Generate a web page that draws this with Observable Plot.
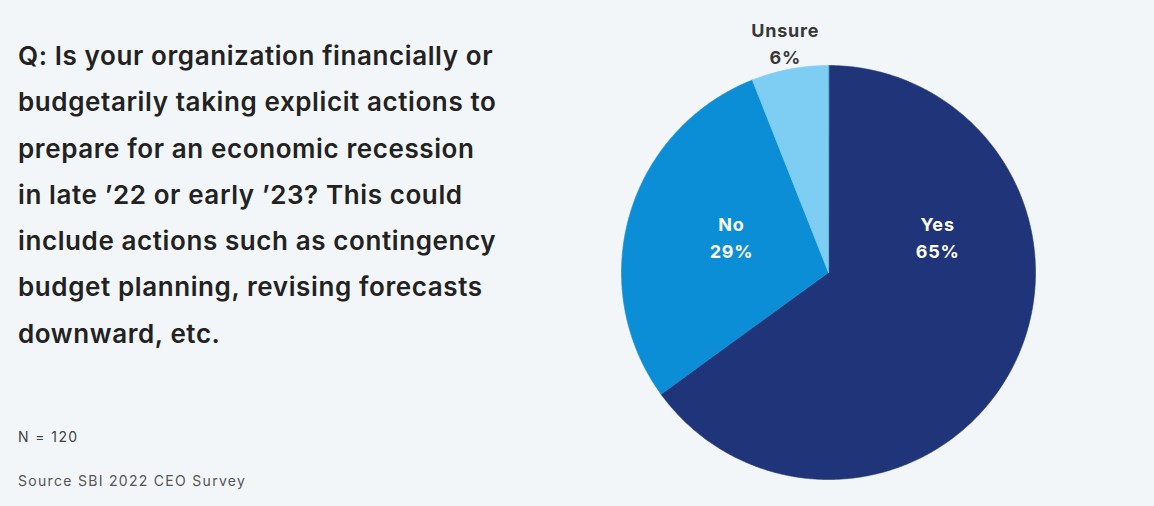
<!DOCTYPE html>
<html>
<head>
<meta charset="utf-8">
<script src="https://cdn.jsdelivr.net/npm/d3@7"></script>
<script src="https://cdn.jsdelivr.net/npm/@observablehq/plot@0.6"></script>
<style>
  html, body { margin: 0; padding: 0; background: #f2f6f9; }
  #wrap { position: relative; width: 1154px; height: 506px; background: #f2f6f9; overflow: hidden; font-family: Inter, "Open Sans", sans-serif; }
  #question { position: absolute; left: 18px; top: 33px; width: 540px; font-size: 26px; font-weight: 600; line-height: 46.3px; color: #222; letter-spacing: 0.6px; }
  #n { position: absolute; left: 18px; top: 428px; font-size: 14px; color: #444; letter-spacing: 1.4px; }
  #source { position: absolute; left: 18px; top: 472px; font-size: 14px; color: #555; letter-spacing: 1.3px; }
  #chart { position: absolute; left: 560px; top: 0; }
</style>
</head>
<body>
<div id="wrap">
  <div id="question">Q: Is your organization financially or<br>budgetarily taking explicit actions to<br>prepare for an economic recession<br>in late ’22 or early ’23? This could<br>include actions such as contingency<br>budget planning, revising forecasts<br>downward, etc.</div>
  <div id="n">N = 120</div>
  <div id="source">Source SBI 2022 CEO Survey</div>
  <div id="chart"></div>
</div>
<script>
// Survey answers, percent of respondents (clockwise from 12 o'clock)
const answers = ["Yes", "No", "Unsure"];
const shares = [65, 29, 6];
const sliceColors = ["#1f3479", "#0b8ed6", "#7ecdf3"];
const labelInk = ["#ffffff", "#ffffff", "#383838"];
// Label placement: angle (degrees clockwise from top) and radius (fraction of pie radius)
const labelAngle = [71.4, 290.7, 349.4];
const labelRadius = [0.556, 0.501, 1.135];

// Build each wedge as a polygon in unit-circle coordinates
const wedges = [];
let start = 0;
answers.forEach((name, i) => {
  const a0 = start / 100 * 2 * Math.PI;
  const a1 = (start + shares[i]) / 100 * 2 * Math.PI;
  wedges.push({answer: name, x: 0, y: 0});
  const steps = Math.max(2, Math.ceil((a1 - a0) / (Math.PI / 360)));
  for (let k = 0; k <= steps; k++) {
    const a = a0 + (a1 - a0) * k / steps;
    wedges.push({answer: name, x: Math.sin(a), y: Math.cos(a)});
  }
  start += shares[i];
});

const labels = answers.map((name, i) => {
  const a = labelAngle[i] * Math.PI / 180;
  return {
    text: `${name}\n${shares[i]}%`,
    x: labelRadius[i] * Math.sin(a),
    y: labelRadius[i] * Math.cos(a),
    ink: labelInk[i]
  };
});

const chart = Plot.plot({
  width: 594,
  height: 506,
  marginLeft: 61,
  marginRight: 119,
  marginTop: 65,
  marginBottom: 27,
  x: {domain: [-1, 1], axis: null},
  y: {domain: [-1, 1], axis: null},
  color: {domain: answers, range: sliceColors},
  style: {background: "transparent", letterSpacing: "0.8px"},
  marks: [
    Plot.line(wedges, {x: "x", y: "y", z: "answer", fill: "answer", stroke: "answer", strokeWidth: 0.6, curve: "linear-closed"}),
    Plot.text(labels, {x: "x", y: "y", text: "text", fill: d => d.ink, fontSize: 18, fontWeight: 700, lineHeight: 1.5, fontFamily: "Inter, 'Open Sans', sans-serif"})
  ]
});
document.getElementById("chart").appendChild(chart);
</script>
</body>
</html>
